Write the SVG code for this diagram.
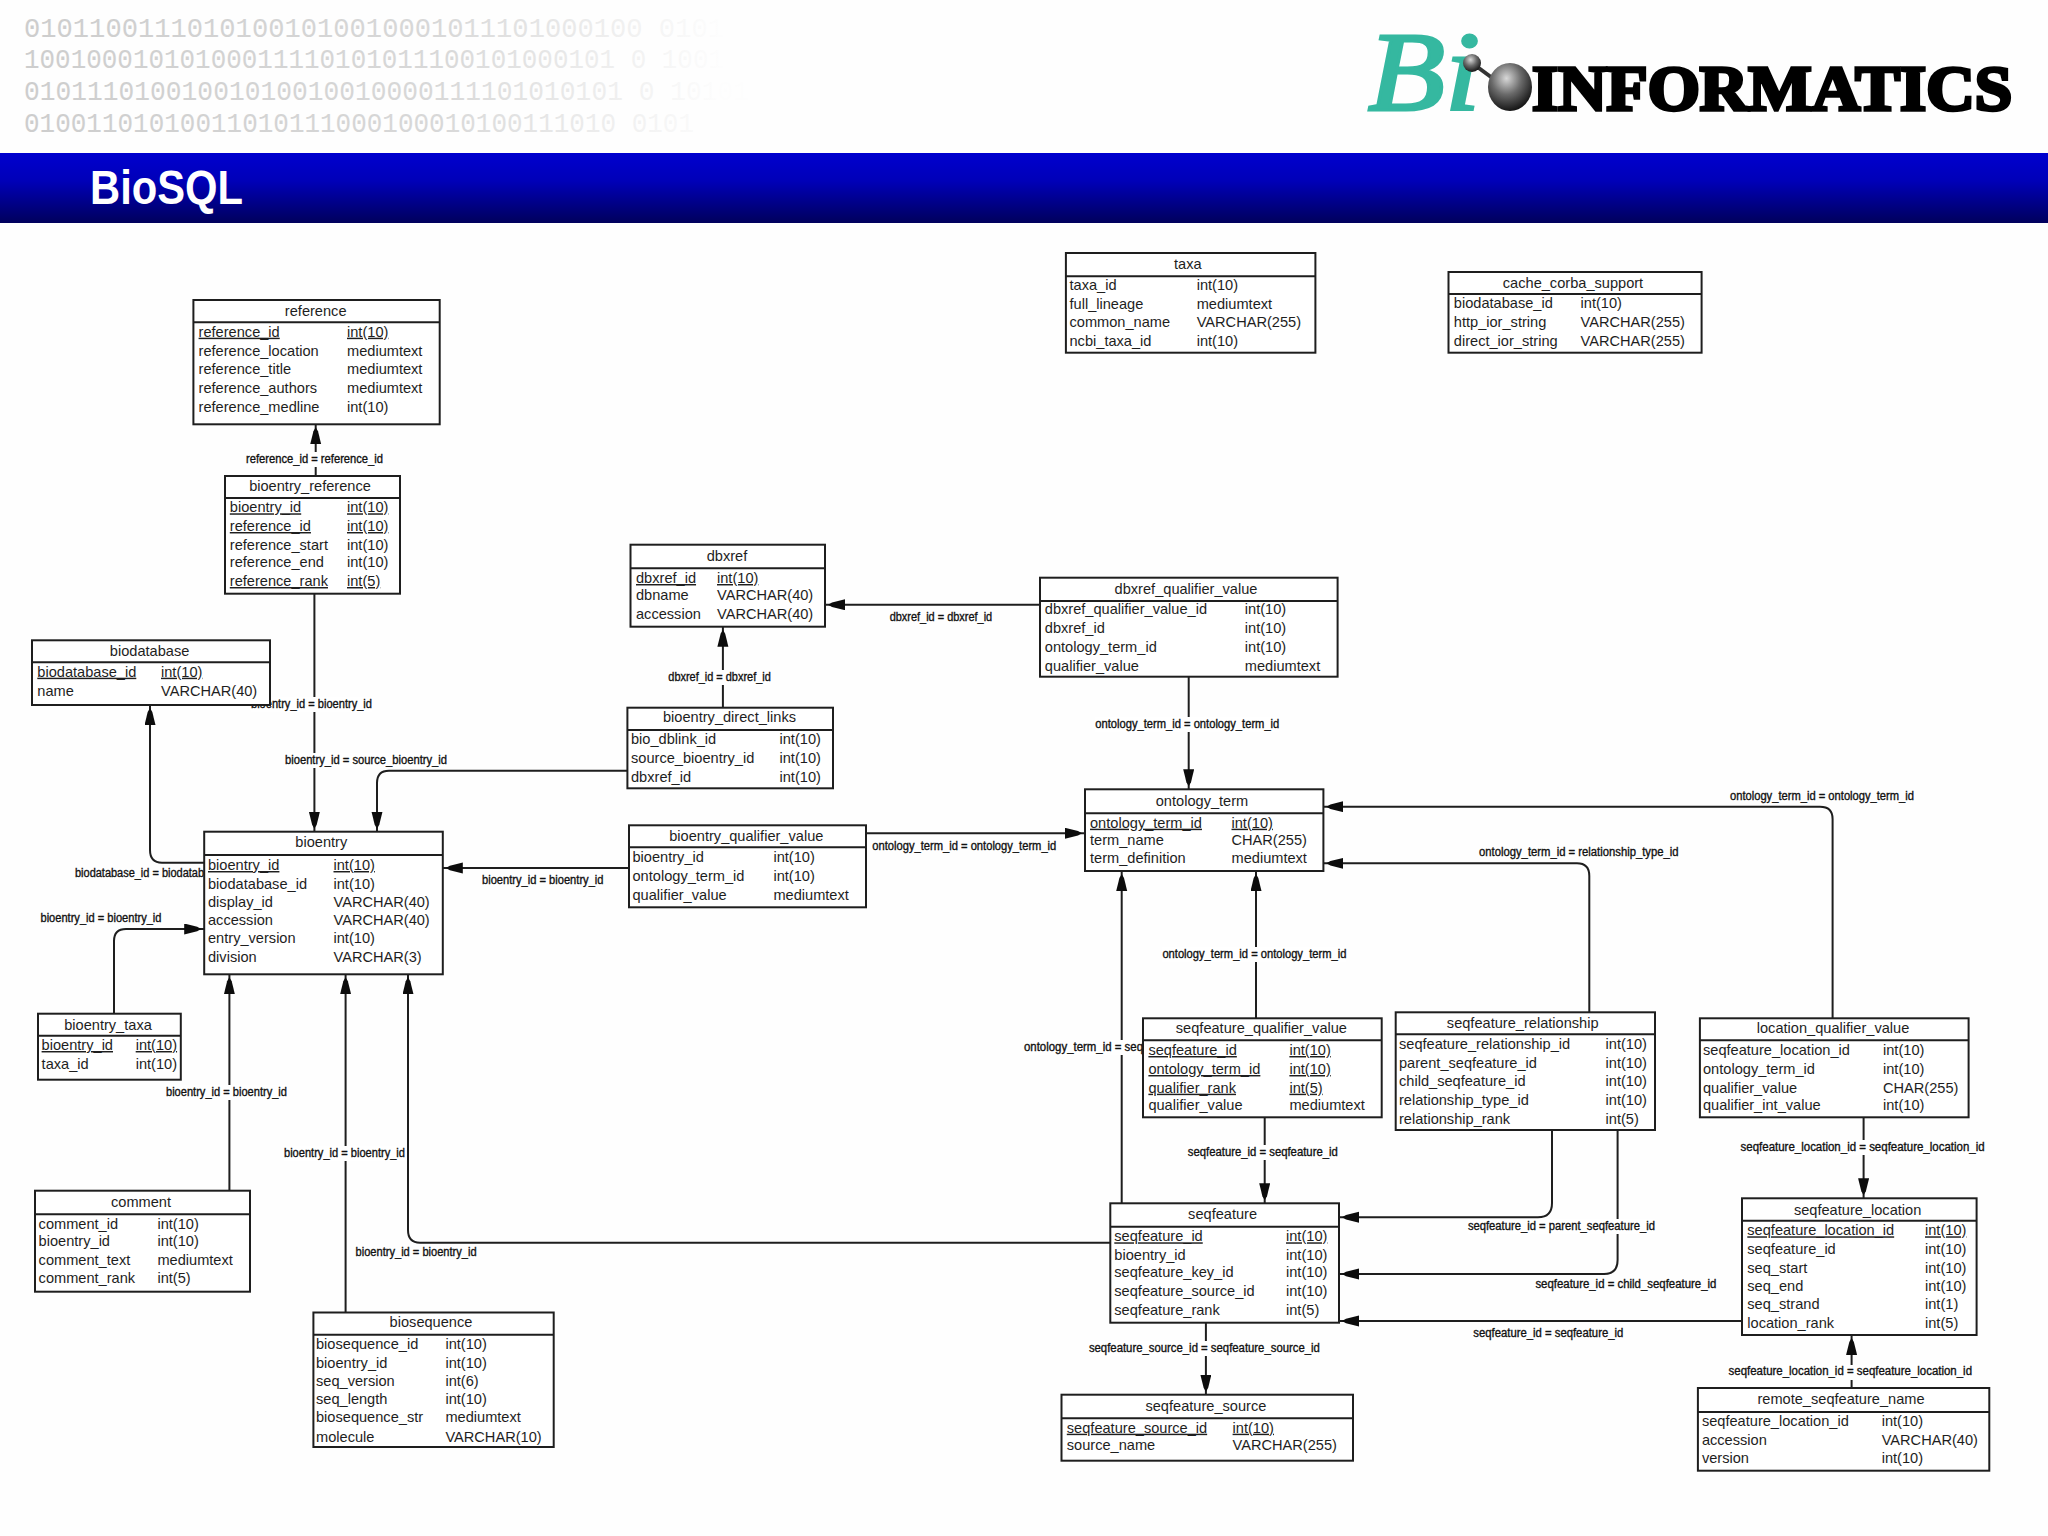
<svg xmlns="http://www.w3.org/2000/svg" width="2048" height="1536" viewBox="0 0 2048 1536">
<style>
.box{fill:#fff;stroke:#1e1e1e;stroke-width:2}
.div{stroke:#1e1e1e;stroke-width:2}
.t{font:14.6px "Liberation Sans",Arial,sans-serif;fill:#1e1e1e;transform:translateY(-1px)}
.h{font:14.6px "Liberation Sans",Arial,sans-serif;fill:#1e1e1e;text-anchor:middle;transform:translateY(-1px)}
.u{text-decoration:underline}
.c{fill:none;stroke:#1e1e1e;stroke-width:2;marker-end:url(#arrow)}
.gap{fill:#fff}
.l{font:12px "Liberation Sans",Arial,sans-serif;fill:#111;stroke:#111;stroke-width:.35;transform:translateY(-1px)}
.bin{font:28px "Liberation Mono",monospace;fill:url(#fade)}
</style>
<defs>
<marker id="arrow" markerUnits="userSpaceOnUse" markerWidth="22" markerHeight="13" refX="20" refY="5.5" orient="auto">
<path d="M0,0 L13,3.2 L17,5.5 L13,7.8 L0,11 Z" fill="#0c0c0c"/>
</marker>
<linearGradient id="band" x1="0" y1="0" x2="0" y2="1">
<stop offset="0" stop-color="#0000cf"/><stop offset=".4" stop-color="#0000b8"/><stop offset="1" stop-color="#00005c"/>
</linearGradient>
<linearGradient id="fade" gradientUnits="userSpaceOnUse" x1="24" y1="0" x2="720" y2="0">
<stop offset="0" stop-color="#cdcdcd"/><stop offset=".6" stop-color="#d8d8d8"/><stop offset="1" stop-color="#fdfdfd"/>
</linearGradient>
<radialGradient id="ball" cx=".42" cy=".32" r=".75">
<stop offset="0" stop-color="#d8d8d8"/><stop offset=".45" stop-color="#6a6a6a"/><stop offset="1" stop-color="#050505"/>
</radialGradient>
</defs>
<rect width="2048" height="1536" fill="#fefefe"/>
<g id="header">
<text class="bin" x="24" y="37" textLength="700" lengthAdjust="spacingAndGlyphs">01011001110101001010010001011101000100 0101</text>
<text class="bin" x="24" y="68" textLength="700" lengthAdjust="spacingAndGlyphs">10010001010100011110101011100101000101 0 1001</text>
<text class="bin" x="24" y="100" textLength="725" lengthAdjust="spacingAndGlyphs">01011101001001010010010000111101010101 0 10101</text>
<text class="bin" x="24" y="132" textLength="670" lengthAdjust="spacingAndGlyphs">01001101010011010111000100010100111010 0101</text>
<rect x="0" y="153" width="2048" height="70" fill="url(#band)"/>
<text x="90" y="204" font-family="'Liberation Sans',Arial,sans-serif" font-weight="700" font-size="48" fill="#fff" textLength="153" lengthAdjust="spacingAndGlyphs">BioSQL</text>
<text x="1368" y="110" font-family="'Liberation Serif','Times New Roman',serif" font-style="italic" font-size="112" fill="#35b8a0" stroke="#35b8a0" stroke-width="3" textLength="112" lengthAdjust="spacingAndGlyphs">Bi</text>
<line x1="1472" y1="63" x2="1495" y2="80" stroke="#333" stroke-width="4"/>
<circle cx="1472" cy="63" r="9" fill="url(#ball)"/>
<ellipse cx="1510" cy="87" rx="22" ry="24" fill="url(#ball)"/>
<text x="1532" y="110" font-family="'Liberation Serif','Times New Roman',serif" font-weight="700" font-size="63" fill="#000" stroke="#000" stroke-width="3.5" textLength="480" lengthAdjust="spacingAndGlyphs">INFORMATICS</text>
</g>
<g id="connectors">
<path class="c" d="M315.7,476V424.3"/>
<path class="c" d="M314.4,593.7V831.7"/>
<path class="c" d="M627.4,770.7H389Q377,770.7 377,783V831.7"/>
<path class="c" d="M204.2,862.7H162Q150,862.7 150,850V705"/>
<path class="c" d="M114,1013.7V941Q114,929 126,929H204.2"/>
<path class="c" d="M229.4,1190.7V974.3"/>
<path class="c" d="M345.6,1312.5V974.3"/>
<path class="c" d="M1110.3,1242.7H420Q408,1242.7 408,1230V974.3"/>
<path class="c" d="M629,868H442.8"/>
<path class="c" d="M1040,604.7H825"/>
<path class="c" d="M722.9,707.7V626.7"/>
<path class="c" d="M1188.7,676.7V789.3"/>
<path class="c" d="M866,833.3H1085"/>
<path class="c" d="M1121.7,1203.3V871"/>
<path class="c" d="M1256,1018.3V871"/>
<path class="c" d="M1589.3,1012.3V876Q1589.3,863.3 1577,863.3H1323.4"/>
<path class="c" d="M1832.6,1018.3V819Q1832.6,806.7 1820,806.7H1323.4"/>
<path class="c" d="M1264.7,1117.3V1203.3"/>
<path class="c" d="M1552,1130V1203Q1552,1217.3 1538,1217.3H1339"/>
<path class="c" d="M1617.6,1130V1260Q1617.6,1274 1604,1274H1339"/>
<path class="c" d="M1742,1321H1339"/>
<path class="c" d="M1205.9,1322.7V1394.7"/>
<path class="c" d="M1863.6,1117.3V1198.3"/>
<path class="c" d="M1851.6,1388V1335"/>
<g class="gap">
<rect x="246" y="452" width="137" height="15"/>
<rect x="251" y="697" width="121" height="15"/>
<rect x="285" y="753" width="162" height="15"/>
<rect x="166" y="1085" width="121" height="15"/>
<rect x="284" y="1146" width="121" height="15"/>
<rect x="668" y="670" width="103" height="15"/>
<rect x="1095" y="717" width="184" height="15"/>
<rect x="1162" y="947" width="184" height="15"/>
<rect x="1024" y="1040" width="119" height="15"/>
<rect x="1188" y="1145" width="150" height="15"/>
<rect x="1741" y="1140" width="244" height="15"/>
<rect x="1468" y="1219" width="187" height="15"/>
<rect x="1089" y="1341" width="231" height="15"/>
<rect x="1729" y="1365" width="243" height="15"/>
</g>
<text class="l" x="246" y="463.5" textLength="137" lengthAdjust="spacingAndGlyphs">reference_id = reference_id</text>
<text class="l" x="251" y="708.5" textLength="121" lengthAdjust="spacingAndGlyphs">bioentry_id = bioentry_id</text>
<text class="l" x="285" y="764.5" textLength="162" lengthAdjust="spacingAndGlyphs">bioentry_id = source_bioentry_id</text>
<text class="l" x="75" y="877.5" textLength="129" lengthAdjust="spacingAndGlyphs">biodatabase_id = biodatab</text>
<text class="l" x="40.5" y="923" textLength="121" lengthAdjust="spacingAndGlyphs">bioentry_id = bioentry_id</text>
<text class="l" x="166" y="1096.5" textLength="121" lengthAdjust="spacingAndGlyphs">bioentry_id = bioentry_id</text>
<text class="l" x="284" y="1158" textLength="121" lengthAdjust="spacingAndGlyphs">bioentry_id = bioentry_id</text>
<text class="l" x="355.6" y="1256.5" textLength="121" lengthAdjust="spacingAndGlyphs">bioentry_id = bioentry_id</text>
<text class="l" x="482" y="885" textLength="121.5" lengthAdjust="spacingAndGlyphs">bioentry_id = bioentry_id</text>
<text class="l" x="889.7" y="622" textLength="102.5" lengthAdjust="spacingAndGlyphs">dbxref_id = dbxref_id</text>
<text class="l" x="668.3" y="681.5" textLength="102.5" lengthAdjust="spacingAndGlyphs">dbxref_id = dbxref_id</text>
<text class="l" x="1095.3" y="728.5" textLength="184" lengthAdjust="spacingAndGlyphs">ontology_term_id = ontology_term_id</text>
<text class="l" x="872.3" y="850.5" textLength="184" lengthAdjust="spacingAndGlyphs">ontology_term_id = ontology_term_id</text>
<text class="l" x="1730" y="800.5" textLength="184" lengthAdjust="spacingAndGlyphs">ontology_term_id = ontology_term_id</text>
<text class="l" x="1479" y="856.5" textLength="199.6" lengthAdjust="spacingAndGlyphs">ontology_term_id = relationship_type_id</text>
<text class="l" x="1162.4" y="958.5" textLength="184" lengthAdjust="spacingAndGlyphs">ontology_term_id = ontology_term_id</text>
<text class="l" x="1024" y="1051.5" textLength="119" lengthAdjust="spacingAndGlyphs">ontology_term_id = seq</text>
<text class="l" x="1187.8" y="1156.5" textLength="150" lengthAdjust="spacingAndGlyphs">seqfeature_id = seqfeature_id</text>
<text class="l" x="1740.6" y="1151.5" textLength="244" lengthAdjust="spacingAndGlyphs">seqfeature_location_id = seqfeature_location_id</text>
<text class="l" x="1467.9" y="1230.5" textLength="187" lengthAdjust="spacingAndGlyphs">seqfeature_id = parent_seqfeature_id</text>
<text class="l" x="1535.4" y="1288.5" textLength="181" lengthAdjust="spacingAndGlyphs">seqfeature_id = child_seqfeature_id</text>
<text class="l" x="1473.3" y="1338" textLength="150" lengthAdjust="spacingAndGlyphs">seqfeature_id = seqfeature_id</text>
<text class="l" x="1088.9" y="1352.5" textLength="231" lengthAdjust="spacingAndGlyphs">seqfeature_source_id = seqfeature_source_id</text>
<text class="l" x="1728.6" y="1376" textLength="243.4" lengthAdjust="spacingAndGlyphs">seqfeature_location_id = seqfeature_location_id</text>
</g>
<g id="reference">
<rect class="box" x="193.4" y="300" width="246.3" height="124.3"/><line class="div" x1="193.4" y1="322.3" x2="439.7" y2="322.3"/>
<text class="h" x="315.7" y="317">reference</text>
<text class="t u" x="198.6" y="337.7">reference_id</text><text class="t u" x="347" y="337.7">int(10)</text>
<text class="t" x="198.6" y="356.7">reference_location</text><text class="t" x="347" y="356.7">mediumtext</text>
<text class="t" x="198.6" y="375.3">reference_title</text><text class="t" x="347" y="375.3">mediumtext</text>
<text class="t" x="198.6" y="394.3">reference_authors</text><text class="t" x="347" y="394.3">mediumtext</text>
<text class="t" x="198.6" y="413">reference_medline</text><text class="t" x="347" y="413">int(10)</text>
</g>
<g id="bioentry_reference">
<rect class="box" x="225" y="476" width="175" height="117.7"/><line class="div" x1="225" y1="498" x2="400" y2="498"/>
<text class="h" x="310" y="491.7">bioentry_reference</text>
<text class="t u" x="229.8" y="513.3">bioentry_id</text><text class="t u" x="347" y="513.3">int(10)</text>
<text class="t u" x="229.8" y="532">reference_id</text><text class="t u" x="347" y="532">int(10)</text>
<text class="t" x="229.8" y="550.7">reference_start</text><text class="t" x="347" y="550.7">int(10)</text>
<text class="t" x="229.8" y="568.3">reference_end</text><text class="t" x="347" y="568.3">int(10)</text>
<text class="t u" x="229.8" y="587">reference_rank</text><text class="t u" x="347" y="587">int(5)</text>
</g>
<g id="biodatabase">
<rect class="box" x="32" y="640.3" width="238" height="64.7"/><line class="div" x1="32" y1="662.3" x2="270" y2="662.3"/>
<text class="h" x="149.6" y="657.3">biodatabase</text>
<text class="t u" x="37.3" y="677.7">biodatabase_id</text><text class="t u" x="161" y="677.7">int(10)</text>
<text class="t" x="37.3" y="696.7">name</text><text class="t" x="161" y="696.7">VARCHAR(40)</text>
</g>
<g id="bioentry">
<rect class="box" x="204.2" y="831.7" width="238.6" height="142.6"/><line class="div" x1="204.2" y1="855" x2="442.8" y2="855"/>
<text class="h" x="321.3" y="848.3">bioentry</text>
<text class="t u" x="208" y="871">bioentry_id</text><text class="t u" x="333.5" y="871">int(10)</text>
<text class="t" x="208" y="889.7">biodatabase_id</text><text class="t" x="333.5" y="889.7">int(10)</text>
<text class="t" x="208" y="908.3">display_id</text><text class="t" x="333.5" y="908.3">VARCHAR(40)</text>
<text class="t" x="208" y="925.7">accession</text><text class="t" x="333.5" y="925.7">VARCHAR(40)</text>
<text class="t" x="208" y="944.3">entry_version</text><text class="t" x="333.5" y="944.3">int(10)</text>
<text class="t" x="208" y="963">division</text><text class="t" x="333.5" y="963">VARCHAR(3)</text>
</g>
<g id="bioentry_taxa">
<rect class="box" x="38" y="1013.7" width="142.8" height="66"/><line class="div" x1="38" y1="1035.7" x2="180.8" y2="1035.7"/>
<text class="h" x="108" y="1030.7">bioentry_taxa</text>
<text class="t u" x="41.6" y="1051">bioentry_id</text><text class="t u" x="135.7" y="1051">int(10)</text>
<text class="t" x="41.6" y="1070">taxa_id</text><text class="t" x="135.7" y="1070">int(10)</text>
</g>
<g id="comment">
<rect class="box" x="35" y="1190.7" width="215" height="101"/><line class="div" x1="35" y1="1214.3" x2="250" y2="1214.3"/>
<text class="h" x="141" y="1207.7">comment</text>
<text class="t" x="38.6" y="1229.7">comment_id</text><text class="t" x="157.4" y="1229.7">int(10)</text>
<text class="t" x="38.6" y="1247">bioentry_id</text><text class="t" x="157.4" y="1247">int(10)</text>
<text class="t" x="38.6" y="1266">comment_text</text><text class="t" x="157.4" y="1266">mediumtext</text>
<text class="t" x="38.6" y="1284">comment_rank</text><text class="t" x="157.4" y="1284">int(5)</text>
</g>
<g id="biosequence">
<rect class="box" x="313.4" y="1312.5" width="240.3" height="134.5"/><line class="div" x1="313.4" y1="1334.7" x2="553.7" y2="1334.7"/>
<text class="h" x="431" y="1328">biosequence</text>
<text class="t" x="316" y="1350">biosequence_id</text><text class="t" x="445.4" y="1350">int(10)</text>
<text class="t" x="316" y="1368.5">bioentry_id</text><text class="t" x="445.4" y="1368.5">int(10)</text>
<text class="t" x="316" y="1386.7">seq_version</text><text class="t" x="445.4" y="1386.7">int(6)</text>
<text class="t" x="316" y="1405">seq_length</text><text class="t" x="445.4" y="1405">int(10)</text>
<text class="t" x="316" y="1423.3">biosequence_str</text><text class="t" x="445.4" y="1423.3">mediumtext</text>
<text class="t" x="316" y="1442.9">molecule</text><text class="t" x="445.4" y="1442.9">VARCHAR(10)</text>
</g>
<g id="dbxref">
<rect class="box" x="630.5" y="544.7" width="194.5" height="82"/><line class="div" x1="630.5" y1="568.3" x2="825" y2="568.3"/>
<text class="h" x="727" y="561.7">dbxref</text>
<text class="t u" x="636" y="584">dbxref_id</text><text class="t u" x="717" y="584">int(10)</text>
<text class="t" x="636" y="601">dbname</text><text class="t" x="717" y="601">VARCHAR(40)</text>
<text class="t" x="636" y="619.7">accession</text><text class="t" x="717" y="619.7">VARCHAR(40)</text>
</g>
<g id="dbxref_qualifier_value">
<rect class="box" x="1040" y="577.7" width="297.6" height="99"/><line class="div" x1="1040" y1="601" x2="1337.6" y2="601"/>
<text class="h" x="1186" y="594.7">dbxref_qualifier_value</text>
<text class="t" x="1044.8" y="615">dbxref_qualifier_value_id</text><text class="t" x="1244.8" y="615">int(10)</text>
<text class="t" x="1044.8" y="634">dbxref_id</text><text class="t" x="1244.8" y="634">int(10)</text>
<text class="t" x="1044.8" y="653">ontology_term_id</text><text class="t" x="1244.8" y="653">int(10)</text>
<text class="t" x="1044.8" y="671.7">qualifier_value</text><text class="t" x="1244.8" y="671.7">mediumtext</text>
</g>
<g id="bioentry_direct_links">
<rect class="box" x="627.4" y="707.7" width="205.6" height="80.6"/><line class="div" x1="627.4" y1="730" x2="833" y2="730"/>
<text class="h" x="729.5" y="723.3">bioentry_direct_links</text>
<text class="t" x="631" y="745.3">bio_dblink_id</text><text class="t" x="779.5" y="745.3">int(10)</text>
<text class="t" x="631" y="764">source_bioentry_id</text><text class="t" x="779.5" y="764">int(10)</text>
<text class="t" x="631" y="782.7">dbxref_id</text><text class="t" x="779.5" y="782.7">int(10)</text>
</g>
<g id="bioentry_qualifier_value">
<rect class="box" x="629" y="825.3" width="237" height="82"/><line class="div" x1="629" y1="847.3" x2="866" y2="847.3"/>
<text class="h" x="746.3" y="842.3">bioentry_qualifier_value</text>
<text class="t" x="632.5" y="863">bioentry_id</text><text class="t" x="773.4" y="863">int(10)</text>
<text class="t" x="632.5" y="881.7">ontology_term_id</text><text class="t" x="773.4" y="881.7">int(10)</text>
<text class="t" x="632.5" y="900.7">qualifier_value</text><text class="t" x="773.4" y="900.7">mediumtext</text>
</g>
<g id="ontology_term">
<rect class="box" x="1085" y="789.3" width="238.4" height="81.7"/><line class="div" x1="1085" y1="813.3" x2="1323.4" y2="813.3"/>
<text class="h" x="1202" y="806.7">ontology_term</text>
<text class="t u" x="1090" y="828.7">ontology_term_id</text><text class="t u" x="1231.5" y="828.7">int(10)</text>
<text class="t" x="1090" y="845.7">term_name</text><text class="t" x="1231.5" y="845.7">CHAR(255)</text>
<text class="t" x="1090" y="864.3">term_definition</text><text class="t" x="1231.5" y="864.3">mediumtext</text>
</g>
<g id="seqfeature_qualifier_value">
<rect class="box" x="1143" y="1018.3" width="238.7" height="99"/><line class="div" x1="1143" y1="1040.3" x2="1381.7" y2="1040.3"/>
<text class="h" x="1261.4" y="1033.7">seqfeature_qualifier_value</text>
<text class="t u" x="1148.4" y="1056">seqfeature_id</text><text class="t u" x="1289.4" y="1056">int(10)</text>
<text class="t u" x="1148.4" y="1075">ontology_term_id</text><text class="t u" x="1289.4" y="1075">int(10)</text>
<text class="t u" x="1148.4" y="1093.7">qualifier_rank</text><text class="t u" x="1289.4" y="1093.7">int(5)</text>
<text class="t" x="1148.4" y="1110.7">qualifier_value</text><text class="t" x="1289.4" y="1110.7">mediumtext</text>
</g>
<g id="seqfeature_relationship">
<rect class="box" x="1395.7" y="1012.3" width="259.3" height="117.7"/><line class="div" x1="1395.7" y1="1034.3" x2="1655" y2="1034.3"/>
<text class="h" x="1522.7" y="1029.3">seqfeature_relationship</text>
<text class="t" x="1399" y="1049.7">seqfeature_relationship_id</text><text class="t" x="1605.6" y="1049.7">int(10)</text>
<text class="t" x="1399" y="1068.7">parent_seqfeature_id</text><text class="t" x="1605.6" y="1068.7">int(10)</text>
<text class="t" x="1399" y="1087.3">child_seqfeature_id</text><text class="t" x="1605.6" y="1087.3">int(10)</text>
<text class="t" x="1399" y="1106">relationship_type_id</text><text class="t" x="1605.6" y="1106">int(10)</text>
<text class="t" x="1399" y="1124.7">relationship_rank</text><text class="t" x="1605.6" y="1124.7">int(5)</text>
</g>
<g id="location_qualifier_value">
<rect class="box" x="1699.9" y="1018.3" width="268.7" height="99"/><line class="div" x1="1699.9" y1="1040.3" x2="1968.6" y2="1040.3"/>
<text class="h" x="1833" y="1033.7">location_qualifier_value</text>
<text class="t" x="1703" y="1056">seqfeature_location_id</text><text class="t" x="1883" y="1056">int(10)</text>
<text class="t" x="1703" y="1075">ontology_term_id</text><text class="t" x="1883" y="1075">int(10)</text>
<text class="t" x="1703" y="1093.7">qualifier_value</text><text class="t" x="1883" y="1093.7">CHAR(255)</text>
<text class="t" x="1703" y="1110.7">qualifier_int_value</text><text class="t" x="1883" y="1110.7">int(10)</text>
</g>
<g id="seqfeature">
<rect class="box" x="1110.3" y="1203.3" width="228.7" height="119.4"/><line class="div" x1="1110.3" y1="1226.7" x2="1339" y2="1226.7"/>
<text class="h" x="1222.6" y="1220.3">seqfeature</text>
<text class="t u" x="1114.3" y="1242.3">seqfeature_id</text><text class="t u" x="1286" y="1242.3">int(10)</text>
<text class="t" x="1114.3" y="1261">bioentry_id</text><text class="t" x="1286" y="1261">int(10)</text>
<text class="t" x="1114.3" y="1278.3">seqfeature_key_id</text><text class="t" x="1286" y="1278.3">int(10)</text>
<text class="t" x="1114.3" y="1297">seqfeature_source_id</text><text class="t" x="1286" y="1297">int(10)</text>
<text class="t" x="1114.3" y="1316">seqfeature_rank</text><text class="t" x="1286" y="1316">int(5)</text>
</g>
<g id="seqfeature_location">
<rect class="box" x="1742" y="1198.3" width="234.6" height="136.7"/><line class="div" x1="1742" y1="1220.7" x2="1976.6" y2="1220.7"/>
<text class="h" x="1857.6" y="1215.7">seqfeature_location</text>
<text class="t u" x="1747.3" y="1236.3">seqfeature_location_id</text><text class="t u" x="1925" y="1236.3">int(10)</text>
<text class="t" x="1747.3" y="1255">seqfeature_id</text><text class="t" x="1925" y="1255">int(10)</text>
<text class="t" x="1747.3" y="1273.7">seq_start</text><text class="t" x="1925" y="1273.7">int(10)</text>
<text class="t" x="1747.3" y="1292.3">seq_end</text><text class="t" x="1925" y="1292.3">int(10)</text>
<text class="t" x="1747.3" y="1309.7">seq_strand</text><text class="t" x="1925" y="1309.7">int(1)</text>
<text class="t" x="1747.3" y="1328.7">location_rank</text><text class="t" x="1925" y="1328.7">int(5)</text>
</g>
<g id="seqfeature_source">
<rect class="box" x="1061.5" y="1394.7" width="291.5" height="66"/><line class="div" x1="1061.5" y1="1418.3" x2="1353" y2="1418.3"/>
<text class="h" x="1205.9" y="1412">seqfeature_source</text>
<text class="t u" x="1066.8" y="1433.7">seqfeature_source_id</text><text class="t u" x="1232.6" y="1433.7">int(10)</text>
<text class="t" x="1066.8" y="1451">source_name</text><text class="t" x="1232.6" y="1451">VARCHAR(255)</text>
</g>
<g id="remote_seqfeature_name">
<rect class="box" x="1697.9" y="1388" width="291.4" height="82.7"/><line class="div" x1="1697.9" y1="1412" x2="1989.3" y2="1412"/>
<text class="h" x="1841" y="1405.3">remote_seqfeature_name</text>
<text class="t" x="1701.9" y="1427.3">seqfeature_location_id</text><text class="t" x="1881.7" y="1427.3">int(10)</text>
<text class="t" x="1701.9" y="1446">accession</text><text class="t" x="1881.7" y="1446">VARCHAR(40)</text>
<text class="t" x="1701.9" y="1463.7">version</text><text class="t" x="1881.7" y="1463.7">int(10)</text>
</g>
<g id="taxa">
<rect class="box" x="1065.9" y="253" width="249.5" height="99.7"/><line class="div" x1="1065.9" y1="276.3" x2="1315.4" y2="276.3"/>
<text class="h" x="1187.8" y="270.3">taxa</text>
<text class="t" x="1069.5" y="290.7">taxa_id</text><text class="t" x="1196.7" y="290.7">int(10)</text>
<text class="t" x="1069.5" y="309.7">full_lineage</text><text class="t" x="1196.7" y="309.7">mediumtext</text>
<text class="t" x="1069.5" y="328.3">common_name</text><text class="t" x="1196.7" y="328.3">VARCHAR(255)</text>
<text class="t" x="1069.5" y="347">ncbi_taxa_id</text><text class="t" x="1196.7" y="347">int(10)</text>
</g>
<g id="cache_corba_support">
<rect class="box" x="1448.5" y="272" width="253.1" height="80.7"/><line class="div" x1="1448.5" y1="294" x2="1701.6" y2="294"/>
<text class="h" x="1573" y="289">cache_corba_support</text>
<text class="t" x="1453.8" y="309.3">biodatabase_id</text><text class="t" x="1580.6" y="309.3">int(10)</text>
<text class="t" x="1453.8" y="328.3">http_ior_string</text><text class="t" x="1580.6" y="328.3">VARCHAR(255)</text>
<text class="t" x="1453.8" y="347">direct_ior_string</text><text class="t" x="1580.6" y="347">VARCHAR(255)</text>
</g>
</svg>
